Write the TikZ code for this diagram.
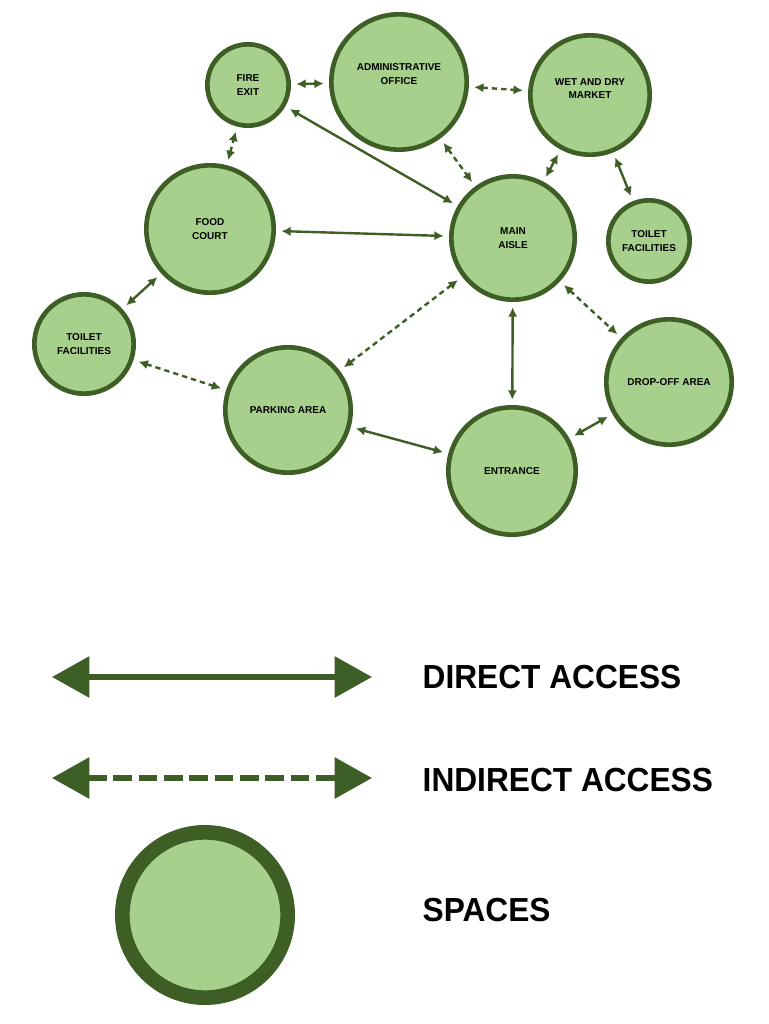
\documentclass[tikz,border=0pt]{standalone}
\usepackage{fontspec}
\setmainfont{Liberation Sans}
\usetikzlibrary{arrows.meta}
\definecolor{dg}{HTML}{3D5E25}
\definecolor{lg}{HTML}{A8D08D}
\begin{document}
\begin{tikzpicture}[x=0.75pt,y=-0.75pt,
 sp/.style={circle,draw=dg,fill=lg,line width=3.5pt,minimum size=#1*0.75pt-3.5pt,inner sep=0pt,align=center,font=\bfseries\fontsize{7.5}{10}\selectfont},
 da/.style={dg,line width=1.8pt,{Latex[length=7pt,width=7pt]}-{Latex[length=7pt,width=7pt]},shorten <=4pt,shorten >=4pt},
 ia/.style={da,dash pattern=on 4pt off 3pt},
 lg1/.style={dg,line width=4.5pt,{Triangle[length=28pt,width=30pt]}-{Triangle[length=28pt,width=30pt]}},
 lt/.style={anchor=west,font=\bfseries\fontsize{25}{30}\selectfont}]
\useasboundingbox (0,0) rectangle (768,1024);
\node[sp=86] (fe) at (248,85) {FIRE\\EXIT};
\node[sp=140] (ad) at (399,82) {ADMINISTRATIVE\\OFFICE\\[2pt]};
\node[sp=124] (wd) at (590,95) {WET AND DRY\\MARKET\\[0pt]};
\node[sp=132] (fc) at (210,229) {FOOD\\COURT};
\node[sp=128] (ma) at (513,238) {MAIN\\AISLE};
\node[sp=86] (tr) at (649,241) {TOILET\\FACILITIES};
\node[sp=104] (tl) at (84,344) {TOILET\\FACILITIES};
\node[sp=130] (pa) at (288,410) {PARKING AREA};
\node[sp=130] (dr) at (669,382) {DROP-OFF AREA};
\node[sp=132] (en) at (512,471) {ENTRANCE};
\draw[da] (fe) -- (ad);
\draw[da] (fe) -- (ma);
\draw[ia] (ad) -- (ma);
\draw[ia] (ad) -- (wd);
\draw[da] (wd) -- (ma);
\draw[da] (wd) -- (tr);
\draw[da] (fc) -- (ma);
\draw[ia] (fc) -- (fe);
\draw[da] (fc) -- (tl);
\draw[ia] (tl) -- (pa);
\draw[ia] (pa) -- (ma);
\draw[da] (pa) -- (en);
\draw[da] (ma) -- (en);
\draw[ia] (ma) -- (dr);
\draw[da] (dr) -- (en);
\coordinate (a1) at (52,677); \coordinate (a2) at (372,677);
\coordinate (b1) at (52,778); \coordinate (b2) at (372,778);
\draw[lg1] (a1) -- (a2);
\draw[lg1,dash pattern=on 14pt off 5pt] (b1) -- (b2);
\node[circle,draw=dg,fill=lg,line width=11pt,minimum size=124pt] (ls) at (205,915) {};
\node[lt] (t1) at (418,677) {\scalebox{0.95}[1]{DIRECT ACCESS}};
\node[lt] (t2) at (418,780) {\scalebox{0.95}[1]{INDIRECT ACCESS}};
\node[lt] (t3) at (418,910) {\scalebox{0.95}[1]{SPACES}};
\end{tikzpicture}
\end{document}
